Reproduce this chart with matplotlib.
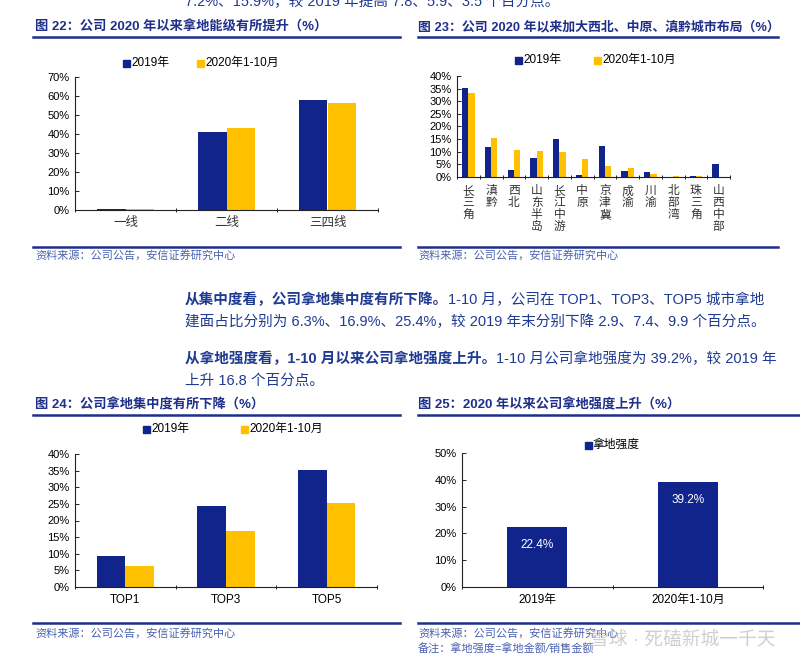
import matplotlib
matplotlib.use('Agg')
import matplotlib.pyplot as plt
from matplotlib.patches import Rectangle
from matplotlib.lines import Line2D
import numpy as np

plt.rcParams['font.family'] = ['Liberation Sans', 'Noto Sans CJK SC', 'DejaVu Sans']

W, H = 800, 663
BLUE = '#10248c'
YELLOW = '#ffc000'
TITLE_C = '#1f2f8a'
SRC_C = '#4a62b0'
TEXT_C = '#1f3a93'

# 图22 能级
tier_cats = ['一线', '二线', '三四线']
tier_2019 = [0.5, 41.0, 58.1]
tier_2020 = [0.5, 43.1, 56.2]

# 图23 区域布局
region_cats = ['长三角', '滇黔', '西北', '山东半岛', '长江中游', '中原', '京津冀',
               '成渝', '川渝', '北部湾', '珠三角', '山西中部']
region_2019 = [35.2, 11.9, 2.9, 7.4, 15.2, 0.8, 12.3, 2.4, 2.1, 0.0, 0.4, 5.3]
region_2020 = [33.3, 15.6, 10.7, 10.3, 9.9, 7.0, 4.2, 3.7, 1.2, 0.4, 0.4, 0.0]

# 图24 集中度
top_cats = ['TOP1', 'TOP3', 'TOP5']
top_2019 = [9.2, 24.3, 35.3]
top_2020 = [6.3, 16.9, 25.4]

# 图25 拿地强度
inten_cats = ['2019年', '2020年1-10月']
inten_vals = [22.4, 39.2]

series_names = ['2019年', '2020年1-10月']

fig = plt.figure(figsize=(W / 100, H / 100), dpi=100)


def fx(x):
    return x / W


def fy(y):
    return 1 - y / H


def px_axes(x0, y_top, x1, y_bot):
    return fig.add_axes([fx(x0), fy(y_bot), fx(x1) - fx(x0), fy(y_top) - fy(y_bot)])


def hline(x0, x1, y, lw=1.8, color=TITLE_C):
    fig.add_artist(Line2D([fx(x0), fx(x1)], [fy(y), fy(y)], color=color, lw=lw))


def legend_item(x, y, color, label, size=8.5):
    s = 7
    fig.add_artist(Rectangle((fx(x), fy(y + s / 2)), s / W, s / H, color=color,
                             transform=fig.transFigure))
    fig.text(fx(x + s + 1), fy(y), label, fontsize=size, va='center', ha='left')


def title(x, y, txt, size=9.5):
    fig.text(fx(x), fy(y), txt, fontsize=size, fontweight='bold', color=TITLE_C, va='center')


def source(x, y, txt):
    fig.text(fx(x), fy(y), txt, fontsize=8, style='italic', color=SRC_C, va='center')


def style_axes(ax, ymax, step, n):
    ax.set_xlim(-0.5, n - 0.5)
    ax.set_ylim(0, ymax)
    ax.set_yticks(np.arange(0, ymax + 0.1, step))
    ax.set_yticklabels([f'{int(v)}%' for v in np.arange(0, ymax + 0.1, step)], fontsize=8)
    for s in ['top', 'right']:
        ax.spines[s].set_visible(False)
    for s in ['left', 'bottom']:
        ax.spines[s].set_linewidth(0.8)
        ax.spines[s].set_color('#222222')
    ax.set_xticks(np.arange(n))
    ax.set_xticks(np.arange(-0.5, n, 1.0), minor=True)
    ax.tick_params(axis='x', which='major', length=0, pad=5)
    ax.tick_params(axis='x', which='minor', length=3, direction='inout', width=0.6)
    ax.tick_params(axis='y', length=3, direction='in', width=0.6, pad=4)


def grouped(ax, a, b, w=0.285):
    x = np.arange(len(a))
    ax.bar(x - w / 2, a, w, color=BLUE)
    ax.bar(x + w / 2, b, w, color=YELLOW)


# top text, cut off by the page edge as in the source page
fig.text(fx(185), fy(2), '7.2%、15.9%，较 2019 年提高 7.8、5.9、3.5 个百分点。',
         fontsize=10.5, color=TEXT_C, va='center')

# ---- 图22
title(35, 27, '图 22：公司 2020 年以来拿地能级有所提升（%）')
hline(33, 400, 37)
legend_item(123, 63, BLUE, series_names[0])
legend_item(197, 63, YELLOW, series_names[1])
ax1 = px_axes(75, 77, 378, 210)
grouped(ax1, tier_2019, tier_2020)
style_axes(ax1, 70, 10, 3)
ax1.set_xticklabels(tier_cats, fontsize=9, color='#333333')
hline(33, 400, 247)
source(35, 255, '资料来源：公司公告，安信证券研究中心')

# ---- 图23
title(418, 27, '图 23：公司 2020 年以来加大西北、中原、滇黔城市布局（%）', size=9.3)
hline(418, 778, 37)
legend_item(515, 60, BLUE, series_names[0])
legend_item(594, 60, YELLOW, series_names[1])
ax2 = px_axes(457, 76, 730, 177)
grouped(ax2, region_2019, region_2020, w=0.28)
style_axes(ax2, 40, 5, len(region_cats))
ax2.set_xticklabels(['\n'.join(c) for c in region_cats], fontsize=8.5, color='#333333',
                    va='top', linespacing=1.0)
ax2.tick_params(axis='x', which='major', pad=6)
hline(418, 778, 247)
source(418, 255, '资料来源：公司公告，安信证券研究中心')

# ---- paragraph
renderer = fig.canvas.get_renderer()


def mixed_line(x, y, parts):
    cur = fx(x)
    for txt, bold in parts:
        t = fig.text(cur, fy(y), txt, fontsize=10.5, color=TEXT_C, va='center',
                     fontweight='bold' if bold else 'normal')
        bb = t.get_window_extent(renderer=renderer)
        cur += bb.width / W


mixed_line(185, 300, [('从集中度看，公司拿地集中度有所下降。', True),
                      ('1-10 月，公司在 TOP1、TOP3、TOP5 城市拿地', False)])
mixed_line(185, 322, [('建面占比分别为 6.3%、16.9%、25.4%，较 2019 年末分别下降 2.9、7.4、9.9 个百分点。', False)])
mixed_line(185, 359, [('从拿地强度看，1-10 月以来公司拿地强度上升。', True),
                      ('1-10 月公司拿地强度为 39.2%，较 2019 年', False)])
mixed_line(185, 381, [('上升 16.8 个百分点。', False)])

# ---- 图24
title(35, 405, '图 24：公司拿地集中度有所下降（%）')
hline(33, 400, 415)
legend_item(143, 429, BLUE, series_names[0])
legend_item(241, 429, YELLOW, series_names[1])
ax3 = px_axes(75, 454, 377, 587)
grouped(ax3, top_2019, top_2020)
style_axes(ax3, 40, 5, 3)
ax3.set_xticklabels(top_cats, fontsize=8.5)
hline(33, 400, 623)
source(35, 633, '资料来源：公司公告，安信证券研究中心')

# ---- 图25
title(418, 405, '图 25：2020 年以来公司拿地强度上升（%）')
hline(418, 800, 415)
legend_item(585, 445, BLUE, '拿地强度')
ax4 = px_axes(462, 453, 763, 587)
x4 = np.arange(len(inten_vals))
ax4.bar(x4, inten_vals, 0.4, color=BLUE)
style_axes(ax4, 50, 10, 2)
ax4.set_xticklabels(inten_cats, fontsize=8.5)
for xi, v in zip(x4, inten_vals):
    ax4.annotate(f'{v:.1f}%', (xi, v), xytext=(0, -13), textcoords='offset points',
                 ha='center', va='center', color='white', fontsize=8.5)
hline(418, 800, 623)
source(418, 633, '资料来源：公司公告，安信证券研究中心')
source(418, 648, '备注：拿地强度=拿地金额/销售金额')

# watermark
fig.text(fx(775), fy(640), '雪球 · 死磕新城一千天', fontsize=13.5, color='#bbbbbb',
         alpha=0.7, va='center', ha='right')

fig.savefig('out.png', dpi=100)
